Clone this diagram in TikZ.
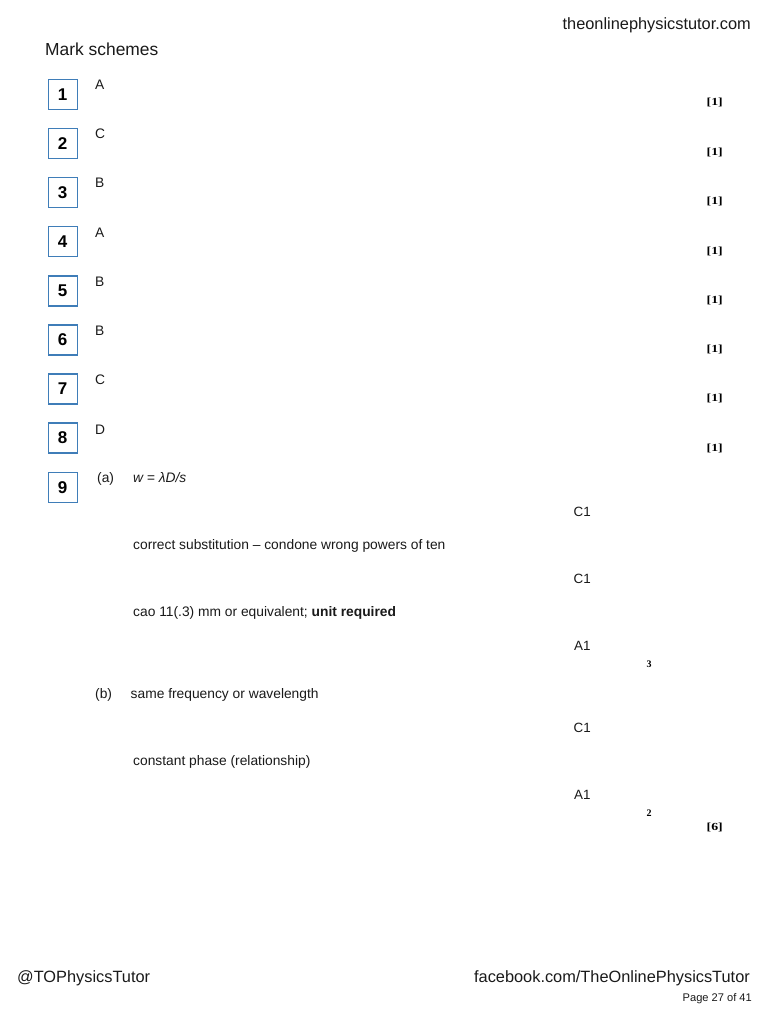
\documentclass[tikz,border=0pt]{standalone}
\usepackage{graphicx}
\usepackage{fontspec}
\setmainfont{Liberation Sans}
\newfontfamily\serifmark{Liberation Serif}
\definecolor{boxblue}{HTML}{3F7DB8}
\definecolor{ink}{HTML}{1A1A1A}
\newcommand{\wide}[1]{\scalebox{1.28}[1]{#1}}
\tikzset{
  numbox/.style={draw=boxblue,line width=1.5pt,fill=white,minimum width=29pt,minimum height=30pt,inner sep=0pt,font=\fontsize{17}{17}\selectfont\bfseries,text=black},
  body/.style={anchor=base west,inner sep=0pt,font=\fontsize{13.8}{16}\selectfont,text=ink},
  markcode/.style={anchor=base west,inner sep=0pt,font=\fontsize{13.4}{16}\selectfont,text=ink},
  hdr/.style={anchor=base west,inner sep=0pt,font=\fontsize{16.35}{20}\selectfont,text=ink},
  hdrr/.style={anchor=base east,inner sep=0pt,font=\fontsize{16.35}{20}\selectfont,text=ink},
  tot/.style={anchor=base east,inner sep=0pt,font=\fontsize{10.8}{12}\selectfont\bfseries\serifmark,text=black},
  sub/.style={anchor=base,inner sep=0pt,font=\fontsize{10}{12}\selectfont\bfseries\serifmark,text=black}
}
\begin{document}
\begin{tikzpicture}[x=1pt,y=-1pt]
\useasboundingbox (0,0) rectangle (768,1024);
\fill[white] (0,0) rectangle (768,1024);
\node[hdrr] (site) at (751,30) {theonlinephysicstutor.com};
\node[hdr,font=\fontsize{17.4}{20}\selectfont] (title) at (45,55.5) {Mark schemes};
% numbered boxes
\node[numbox] (n1) at (63,94.5) {\hspace{-1pt}1};
\node[numbox] (n2) at (63,143.5) {\hspace{-1pt}2};
\node[numbox] (n3) at (63,192.5) {\hspace{-1pt}3};
\node[numbox] (n4) at (63,241.5) {\hspace{-1pt}4};
\node[numbox] (n5) at (63,291) {\hspace{-1pt}5};
\node[numbox] (n6) at (63,340) {\hspace{-1pt}6};
\node[numbox] (n7) at (63,389) {\hspace{-1pt}7};
\node[numbox] (n8) at (63,438) {\hspace{-1pt}8};
\node[numbox] (n9) at (63,487.5) {\hspace{-1pt}9};
% answers
\node[body] (a1) at (95,89.5) {A};
\node[body] (a2) at (95,139) {C};
\node[body] (a3) at (95,188) {B};
\node[body] (a4) at (95,237.5) {A};
\node[body] (a5) at (95,286.5) {B};
\node[body] (a6) at (95,335.5) {B};
\node[body] (a7) at (95,384.5) {C};
\node[body] (a8) at (95,434) {D};
% totals
\node[tot] (m1) at (723,106) {\wide{[1]}};
\node[tot] (m2) at (723,156) {\wide{[1]}};
\node[tot] (m3) at (723,204.5) {\wide{[1]}};
\node[tot] (m4) at (723,254.5) {\wide{[1]}};
\node[tot] (m5) at (723,303) {\wide{[1]}};
\node[tot] (m6) at (723,352.5) {\wide{[1]}};
\node[tot] (m7) at (723,401.5) {\wide{[1]}};
\node[tot] (m8) at (723,451) {\wide{[1]}};
% question 9
\node[body] (qa) at (97,482) {(a)};
\node[body] (l1) at (133,482) {\itshape w = λD/s};
\node[markcode] (c1) at (573.5,516) {C1};
\node[body] (l2) at (133,549) {correct substitution – condone wrong powers of ten};
\node[markcode] (c2) at (573.5,583) {C1};
\node[body] (l3) at (133,616) {cao 11(.3) mm or equivalent; \textbf{unit required}};
\node[markcode] (c3) at (574,650.5) {A1};
\node[sub] (s3) at (649,667) {3};
\node[body] (qb) at (95,698) {(b)};
\node[body] (l4) at (130.5,698) {same frequency or wavelength};
\node[markcode] (c4) at (573.5,732) {C1};
\node[body] (l5) at (133,765) {constant phase (relationship)};
\node[markcode] (c5) at (574,799.5) {A1};
\node[sub] (s2) at (649,816) {2};
\node[tot] (m9) at (723,830.5) {\wide{[6]}};
% footer
\node[hdr] (tw) at (17,982.5) {@TOPhysicsTutor};
\node[hdrr] (fb) at (750,982.5) {facebook.com/TheOnlinePhysicsTutor};
\node[anchor=base east,inner sep=0pt,font=\fontsize{11.1}{12}\selectfont,text=ink] (pg) at (752,1001) {Page 27 of 41};
\end{tikzpicture}
\end{document}
